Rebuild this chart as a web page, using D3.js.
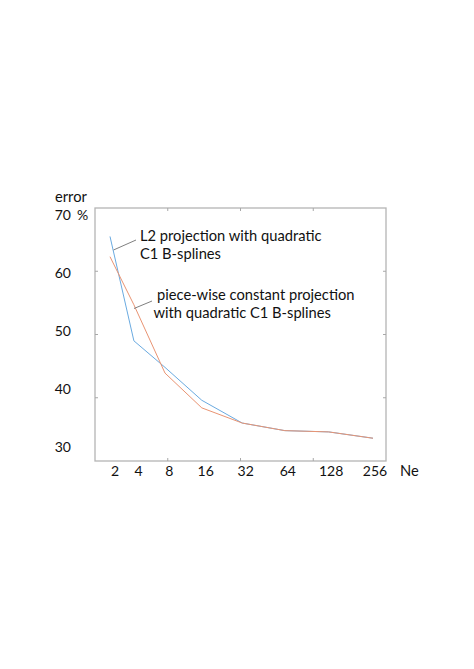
<!DOCTYPE html>
<html>
<head>
<meta charset="utf-8">
<script src="https://cdn.jsdelivr.net/npm/d3@7"></script>
<style>
  html, body { margin: 0; padding: 0; background: #fff; }
  svg { display: block; }
  text { font-family: Lato, "Liberation Sans", sans-serif; fill: #111; }
</style>
</head>
<body>
<svg id="chart" width="474" height="669"></svg>
<script>
// ---- data ----
const ne = [2, 4, 8, 16, 32, 64, 128, 256];
const neLabels = ["2", "4", "8", "16", "32", "64", "128", "256"];
const l2Projection = [65.5, 49.0, 44.8, 39.6, 36.0, 34.8, 34.6, 33.6];
const pwConstProjection = [62.3, 54.7, 43.9, 38.4, 36.0, 34.8, 34.6, 33.6];
const yTickValues = [70, 60, 50, 40, 30];
const yTickLabels = ["70", "60", "50", "40", "30"];
const innerTicks = [60, 50, 40];
const annotations = [
  ["L2 projection with quadratic", "C1 B-splines"],
  ["piece-wise constant projection", "with quadratic C1 B-splines"]
];

// ---- layout ----
const frame = { left: 95, right: 386, top: 208, bottom: 461 };
const svg = d3.select("#chart");

const x = d3.scaleSymlog().constant(2.5).domain([2, 256]).range([110, 373]);
const xLab = d3.scaleSymlog().constant(2.5).domain([2, 256]).range([115, 375]);
const y = d3.scaleLinear().domain([30, 70]).range([frame.bottom, frame.top]);
const yLab = d3.scaleLinear().domain([30, 70]).range([447, 215]);
const xFrame = d3.scaleLinear().domain([0, 4]).range([frame.left, frame.right]);

// frame
svg.append("rect")
  .attr("x", frame.left).attr("y", frame.top)
  .attr("width", frame.right - frame.left).attr("height", frame.bottom - frame.top)
  .attr("fill", "none").attr("stroke", "#b4b4b4").attr("stroke-width", 1.3);

// inward ticks
const tickLen = 3;
const tg = svg.append("g").attr("stroke", "#a8a8a8").attr("stroke-width", 1);
innerTicks.forEach(v => {
  tg.append("line").attr("x1", frame.left).attr("x2", frame.left + tickLen).attr("y1", y(v)).attr("y2", y(v));
  tg.append("line").attr("x1", frame.right).attr("x2", frame.right - tickLen).attr("y1", y(v)).attr("y2", y(v));
});
[1, 2, 3].forEach(i => {
  tg.append("line").attr("y1", frame.bottom).attr("y2", frame.bottom - tickLen).attr("x1", xFrame(i)).attr("x2", xFrame(i));
  tg.append("line").attr("y1", frame.top).attr("y2", frame.top + tickLen).attr("x1", xFrame(i)).attr("x2", xFrame(i));
});

// y labels
const fsNum = 14;
const fsText = 14.7;
yTickValues.forEach((v, i) => {
  svg.append("text").attr("x", 71).attr("y", yLab(v)).attr("dy", "0.36em")
    .attr("text-anchor", "end").attr("font-size", fsNum).text(yTickLabels[i]);
});
svg.append("text").attr("x", 77).attr("y", yLab(70)).attr("dy", "0.36em")
  .attr("font-size", fsNum).text("%");
svg.append("text").attr("x", 55).attr("y", 202).attr("font-size", fsText).text("error");

// x labels
ne.forEach((d, i) => {
  svg.append("text").attr("x", xLab(d)).attr("y", 476)
    .attr("text-anchor", "middle").attr("font-size", fsNum).text(neLabels[i]);
});
svg.append("text").attr("x", 400).attr("y", 476).attr("font-size", fsText).text("Ne");

// series
const line = d3.line().x(d => x(d[0])).y(d => y(d[1]));
svg.append("path").datum(d3.zip(ne, l2Projection))
  .attr("d", line).attr("fill", "none").attr("stroke", "#6aaae0").attr("stroke-width", 1);
svg.append("path").datum(d3.zip(ne, pwConstProjection))
  .attr("d", line).attr("fill", "none").attr("stroke", "#e99473").attr("stroke-width", 1);

// annotations
const annPos = [{ x: 140, y: 241, lx1: 113.5, ly1: 250, lx2: 136, ly2: 240 },
                { x: 157, y: 300, lx1: 134, ly1: 308.5, lx2: 152, ly2: 301 }];
annotations.forEach((lines, k) => {
  const p = annPos[k];
  lines.forEach((t, j) => {
    svg.append("text").attr("x", p.x - (k === 1 && j === 1 ? 3.5 : 0)).attr("y", p.y + j * 18)
      .attr("font-size", fsText).text(t);
  });
  svg.append("line").attr("x1", p.lx1).attr("y1", p.ly1).attr("x2", p.lx2).attr("y2", p.ly2)
    .attr("stroke", "#808080").attr("stroke-width", 1);
});
</script>
</body>
</html>
